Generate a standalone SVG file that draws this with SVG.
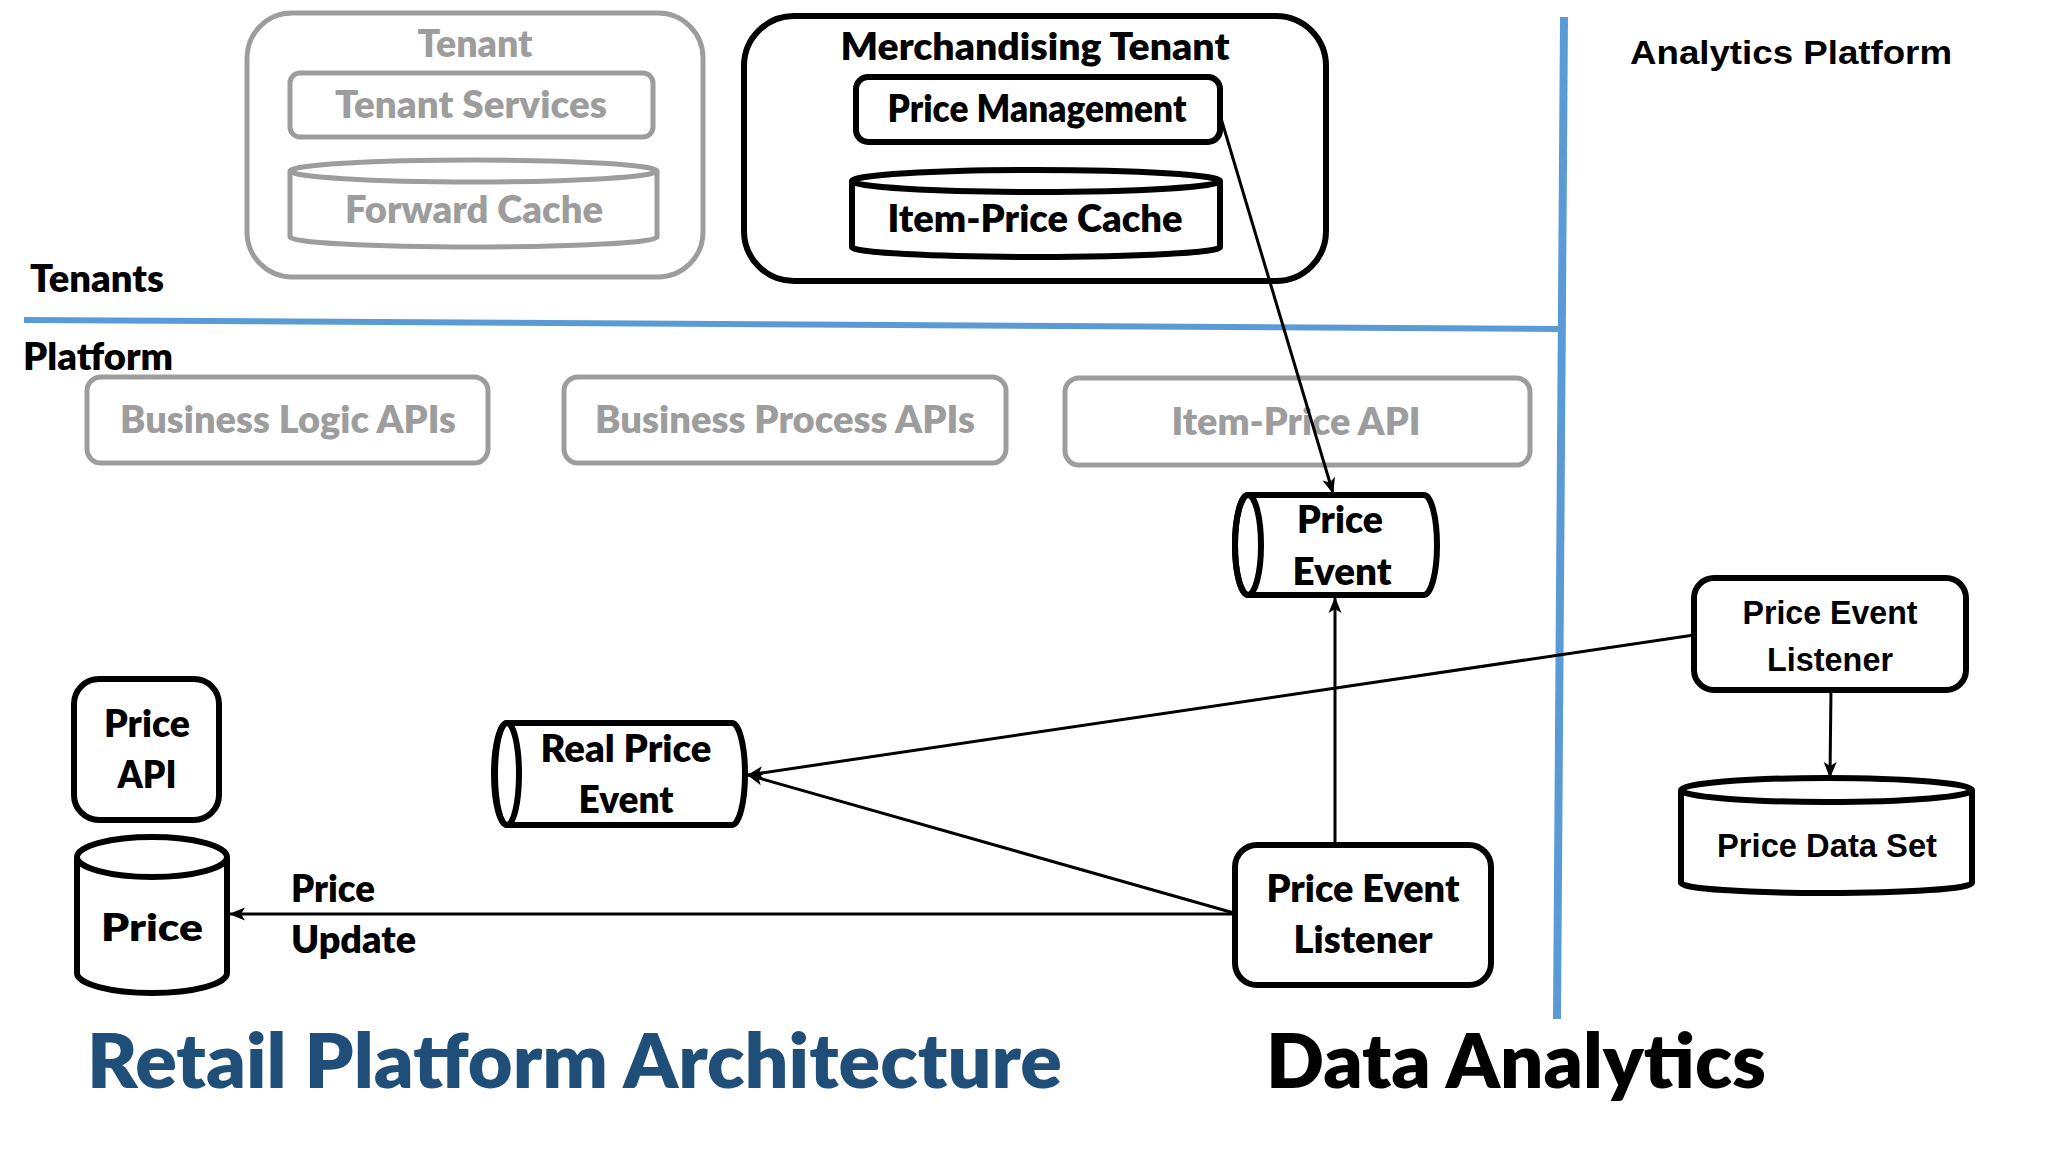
<svg xmlns="http://www.w3.org/2000/svg" width="2048" height="1152" viewBox="0 0 2048 1152">
<style>
  .bg { fill: #ffffff; }
  .gbox { fill: #ffffff; stroke: #9d9d9d; stroke-width: 5; }
  .bbox { fill: #ffffff; stroke: #000000; stroke-width: 6; }
  .gline { fill: none; stroke: #9d9d9d; stroke-width: 5; }
  .bline { fill: none; stroke: #000000; stroke-width: 6; }
  .gt { font-family: Lato, "Liberation Sans", sans-serif; font-weight: 800; fill: #9d9d9d; font-size: 38px; text-anchor: middle; }
  .bt { font-family: Lato, "Liberation Sans", sans-serif; font-weight: 800; fill: #000000; font-size: 38px; text-anchor: middle; }
  .lt { font-family: Lato, "Liberation Sans", sans-serif; font-weight: 800; fill: #000000; font-size: 37px; }
  .rt { font-family: "Liberation Sans", Arial, sans-serif; font-weight: 700; fill: #000000; font-size: 33px; text-anchor: middle; }
  .title { font-family: Lato, "Liberation Sans", sans-serif; font-weight: 800; font-size: 76px; }
  .divider { stroke: #5b9bd5; fill: none; }
  .conn { stroke: #000000; stroke-width: 3; fill: none; marker-end: url(#arrow); }
</style>
<defs>
  <marker id="arrow" viewBox="0 0 16 16" refX="15" refY="8" markerWidth="16" markerHeight="16" markerUnits="userSpaceOnUse" orient="auto">
    <path d="M0,1.5 L16,8 L0,14.5 L4,8 Z" fill="#000000"/>
  </marker>
</defs>
<rect class="bg" x="0" y="0" width="2048" height="1152"/>

<g id="dividers">
  <line class="divider" x1="24" y1="320" x2="1562" y2="329" stroke-width="6"/>
  <line class="divider" x1="1564" y1="17" x2="1557" y2="1019" stroke-width="8"/>
</g>

<g id="section-labels">
  <text class="lt" x="30" y="292" textLength="134" lengthAdjust="spacingAndGlyphs">Tenants</text>
  <text class="lt" x="23" y="370" textLength="150" lengthAdjust="spacingAndGlyphs">Platform</text>
  <text class="rt" x="1791" y="64" font-size="37" textLength="322" lengthAdjust="spacingAndGlyphs">Analytics Platform</text>
</g>

<g id="tenant">
  <rect class="gbox" x="247" y="13" width="456" height="264" rx="45"/>
  <text class="gt" x="475" y="57" textLength="115" lengthAdjust="spacingAndGlyphs">Tenant</text>
</g>
<g id="tenant-services">
  <rect class="gbox" x="290" y="73" width="363" height="64" rx="10"/>
  <text class="gt" x="471" y="118" textLength="272" lengthAdjust="spacingAndGlyphs">Tenant Services</text>
</g>
<g id="forward-cache">
  <path class="gline" d="M290,171 A183.5,11 0 0 1 657,171 L657,237 A183.5,10 0 0 1 290,237 Z" fill="#ffffff"/>
  <path class="gline" d="M290,171 A183.5,11 0 0 0 657,171"/>
  <text class="gt" x="474" y="223" textLength="258" lengthAdjust="spacingAndGlyphs">Forward Cache</text>
</g>

<g id="merchandising-tenant">
  <rect class="bbox" x="744" y="16" width="582" height="265" rx="50"/>
  <text class="bt" x="1035" y="60" textLength="389" lengthAdjust="spacingAndGlyphs">Merchandising Tenant</text>
</g>
<g id="price-management">
  <rect class="bbox" x="856" y="77" width="364" height="65" rx="12"/>
  <text class="bt" x="1037" y="122" textLength="299" lengthAdjust="spacingAndGlyphs">Price Management</text>
</g>
<g id="item-price-cache">
  <path class="bline" d="M852,181 A184,11 0 0 1 1220,181 L1220,247 A184,10 0 0 1 852,247 Z" fill="#ffffff"/>
  <path class="bline" d="M852,181 A184,11 0 0 0 1220,181"/>
  <text class="bt" x="1035" y="232" textLength="295" lengthAdjust="spacingAndGlyphs">Item-Price Cache</text>
</g>

<g id="business-logic-apis">
  <rect class="gbox" x="87" y="377" width="401" height="86" rx="14"/>
  <text class="gt" x="288" y="433" textLength="336" lengthAdjust="spacingAndGlyphs">Business Logic APIs</text>
</g>
<g id="business-process-apis">
  <rect class="gbox" x="564" y="377" width="442" height="86" rx="14"/>
  <text class="gt" x="785" y="433" textLength="380" lengthAdjust="spacingAndGlyphs">Business Process APIs</text>
</g>
<g id="item-price-api">
  <rect class="gbox" x="1065" y="378" width="465" height="87" rx="14"/>
  <text class="gt" x="1296" y="435" textLength="249" lengthAdjust="spacingAndGlyphs">Item-Price API</text>
</g>

<g id="price-event">
  <path class="bline" d="M1248,495 L1424,495 A13,50 0 0 1 1424,595 L1248,595 A13,50 0 0 1 1248,495 Z" fill="#ffffff"/>
  <ellipse class="bline" cx="1248" cy="545" rx="13" ry="50"/>
  <text class="bt" x="1340" y="533" textLength="86" lengthAdjust="spacingAndGlyphs">Price</text>
  <text class="bt" x="1342" y="585" textLength="99" lengthAdjust="spacingAndGlyphs">Event</text>
</g>

<g id="real-price-event">
  <path class="bline" d="M507,723 L732,723 A13,51 0 0 1 732,825 L507,825 A13,51 0 0 1 507,723 Z" fill="#ffffff"/>
  <ellipse class="bline" cx="507" cy="774" rx="12" ry="51"/>
  <text class="bt" x="626" y="762" textLength="171" lengthAdjust="spacingAndGlyphs">Real Price</text>
  <text class="bt" x="626" y="813" textLength="95" lengthAdjust="spacingAndGlyphs">Event</text>
</g>

<g id="price-api">
  <rect class="bbox" x="74" y="679" width="145" height="141" rx="25"/>
  <text class="bt" x="147" y="737" textLength="86" lengthAdjust="spacingAndGlyphs">Price</text>
  <text class="bt" x="147" y="788" textLength="59" lengthAdjust="spacingAndGlyphs">API</text>
</g>

<g id="price-db">
  <path class="bline" d="M77,857 A75,20 0 0 1 227,857 L227,973 A75,20 0 0 1 77,973 Z" fill="#ffffff"/>
  <path class="bline" d="M77,857 A75,20 0 0 0 227,857"/>
  <text class="bt" x="152" y="941" font-size="46" textLength="102" lengthAdjust="spacingAndGlyphs">Price</text>
</g>

<g id="price-event-listener">
  <rect class="bbox" x="1235" y="845" width="256" height="140" rx="22"/>
  <text class="bt" x="1363" y="902" textLength="193" lengthAdjust="spacingAndGlyphs">Price Event</text>
  <text class="bt" x="1363" y="953" textLength="139" lengthAdjust="spacingAndGlyphs">Listener</text>
</g>

<g id="analytics-price-event-listener">
  <rect class="bbox" x="1694" y="578" width="272" height="112" rx="20"/>
  <text class="rt" x="1830" y="624" textLength="175" lengthAdjust="spacingAndGlyphs">Price Event</text>
  <text class="rt" x="1830" y="671" textLength="126" lengthAdjust="spacingAndGlyphs">Listener</text>
</g>

<g id="price-data-set">
  <path class="bline" d="M1681,790 A145.5,12 0 0 1 1972,790 L1972,883 A145.5,10 0 0 1 1681,883 Z" fill="#ffffff"/>
  <path class="bline" d="M1681,790 A145.5,12 0 0 0 1972,790"/>
  <text class="rt" x="1827" y="857" textLength="220" lengthAdjust="spacingAndGlyphs">Price Data Set</text>
</g>

<g id="connectors">
  <line class="conn" x1="1220" y1="115" x2="1333" y2="493"/>
  <line class="conn" x1="1335" y1="845" x2="1335" y2="598"/>
  <line class="conn" x1="1234" y1="914" x2="230" y2="914"/>
  <line class="conn" x1="1234" y1="913" x2="748" y2="775"/>
  <line class="conn" x1="1694" y1="635" x2="748" y2="775"/>
  <line class="conn" x1="1831" y1="690" x2="1830" y2="777"/>
</g>

<g id="connector-labels">
  <text class="lt" x="291" y="902" textLength="84" lengthAdjust="spacingAndGlyphs">Price</text>
  <text class="lt" x="291" y="953" textLength="125" lengthAdjust="spacingAndGlyphs">Update</text>
</g>

<g id="titles">
  <text class="title" x="87" y="1088" fill="#1f4e79" textLength="975" lengthAdjust="spacingAndGlyphs">Retail Platform Architecture</text>
  <text class="title" x="1266" y="1088" fill="#000000" textLength="500" lengthAdjust="spacingAndGlyphs">Data Analytics</text>
</g>
</svg>
